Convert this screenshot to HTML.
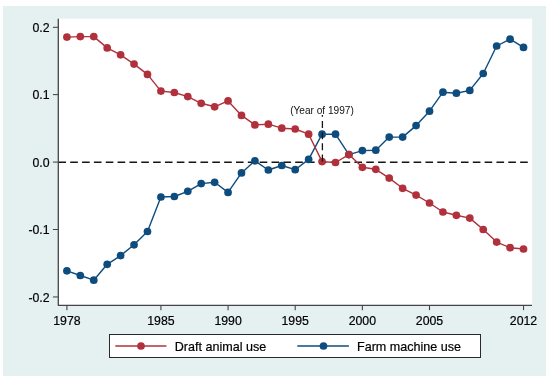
<!DOCTYPE html>
<html><head><meta charset="utf-8"><style>
html,body{margin:0;padding:0;background:#fff;width:550px;height:380px;overflow:hidden}
svg{display:block}
text{font-family:"Liberation Sans",Arial,sans-serif;fill:#000;stroke:#000;stroke-width:0.2px}
.t{font-size:12.3px}
.a{font-size:10.1px;stroke-width:0;fill:#111}
.l{font-size:12.55px}
</style></head><body>
<svg width="550" height="380" viewBox="0 0 550 380">
<rect x="0" y="0" width="550" height="380" fill="#fff"/>
<rect x="3" y="6" width="543" height="370" fill="#E5F0F1"/>
<rect x="58.5" y="18.7" width="473.7" height="286.3" fill="#fff"/>
<line x1="58.4" y1="162.2" x2="532" y2="162.2" stroke="#151515" stroke-width="1.4" stroke-dasharray="7.6 4.24"/>
<polyline points="66.90,270.80 80.33,275.50 93.76,280.20 107.19,264.30 120.62,255.60 134.05,244.80 147.48,231.50 160.91,197.00 174.34,196.50 187.77,191.30 201.20,183.60 214.63,182.30 228.06,192.40 241.49,172.90 254.92,160.80 268.35,170.00 281.78,165.50 295.21,169.70 308.64,159.40 322.07,134.20 335.50,134.20 348.93,154.60 362.36,150.60 375.79,150.20 389.22,137.10 402.65,137.10 416.08,125.60 429.51,111.20 442.94,92.20 456.37,93.20 469.80,90.40 483.23,73.50 496.66,46.00 510.09,39.20 523.52,47.40" fill="none" stroke="#0E4C7E" stroke-width="1.4" stroke-linejoin="round"/>
<g fill="#0E4C7E"><circle cx="66.90" cy="270.80" r="3.85"/><circle cx="80.33" cy="275.50" r="3.85"/><circle cx="93.76" cy="280.20" r="3.85"/><circle cx="107.19" cy="264.30" r="3.85"/><circle cx="120.62" cy="255.60" r="3.85"/><circle cx="134.05" cy="244.80" r="3.85"/><circle cx="147.48" cy="231.50" r="3.85"/><circle cx="160.91" cy="197.00" r="3.85"/><circle cx="174.34" cy="196.50" r="3.85"/><circle cx="187.77" cy="191.30" r="3.85"/><circle cx="201.20" cy="183.60" r="3.85"/><circle cx="214.63" cy="182.30" r="3.85"/><circle cx="228.06" cy="192.40" r="3.85"/><circle cx="241.49" cy="172.90" r="3.85"/><circle cx="254.92" cy="160.80" r="3.85"/><circle cx="268.35" cy="170.00" r="3.85"/><circle cx="281.78" cy="165.50" r="3.85"/><circle cx="295.21" cy="169.70" r="3.85"/><circle cx="308.64" cy="159.40" r="3.85"/><circle cx="322.07" cy="134.20" r="3.85"/><circle cx="335.50" cy="134.20" r="3.85"/><circle cx="348.93" cy="154.60" r="3.85"/><circle cx="362.36" cy="150.60" r="3.85"/><circle cx="375.79" cy="150.20" r="3.85"/><circle cx="389.22" cy="137.10" r="3.85"/><circle cx="402.65" cy="137.10" r="3.85"/><circle cx="416.08" cy="125.60" r="3.85"/><circle cx="429.51" cy="111.20" r="3.85"/><circle cx="442.94" cy="92.20" r="3.85"/><circle cx="456.37" cy="93.20" r="3.85"/><circle cx="469.80" cy="90.40" r="3.85"/><circle cx="483.23" cy="73.50" r="3.85"/><circle cx="496.66" cy="46.00" r="3.85"/><circle cx="510.09" cy="39.20" r="3.85"/><circle cx="523.52" cy="47.40" r="3.85"/></g>

<polyline points="66.90,37.10 80.33,36.60 93.76,36.60 107.19,47.90 120.62,54.80 134.05,64.10 147.48,74.40 160.91,91.10 174.34,92.50 187.77,96.60 201.20,103.30 214.63,106.80 228.06,100.90 241.49,115.40 254.92,124.90 268.35,124.20 281.78,128.20 295.21,129.00 308.64,134.20 322.07,161.60 335.50,162.50 348.93,154.60 362.36,167.30 375.79,169.30 389.22,178.10 402.65,188.30 416.08,195.10 429.51,203.00 442.94,212.00 456.37,215.30 469.80,218.10 483.23,229.50 496.66,242.10 510.09,247.70 523.52,249.00" fill="none" stroke="#B0303B" stroke-width="1.4" stroke-linejoin="round"/>
<g fill="#B0303B"><circle cx="66.90" cy="37.10" r="3.85"/><circle cx="80.33" cy="36.60" r="3.85"/><circle cx="93.76" cy="36.60" r="3.85"/><circle cx="107.19" cy="47.90" r="3.85"/><circle cx="120.62" cy="54.80" r="3.85"/><circle cx="134.05" cy="64.10" r="3.85"/><circle cx="147.48" cy="74.40" r="3.85"/><circle cx="160.91" cy="91.10" r="3.85"/><circle cx="174.34" cy="92.50" r="3.85"/><circle cx="187.77" cy="96.60" r="3.85"/><circle cx="201.20" cy="103.30" r="3.85"/><circle cx="214.63" cy="106.80" r="3.85"/><circle cx="228.06" cy="100.90" r="3.85"/><circle cx="241.49" cy="115.40" r="3.85"/><circle cx="254.92" cy="124.90" r="3.85"/><circle cx="268.35" cy="124.20" r="3.85"/><circle cx="281.78" cy="128.20" r="3.85"/><circle cx="295.21" cy="129.00" r="3.85"/><circle cx="308.64" cy="134.20" r="3.85"/><circle cx="322.07" cy="161.60" r="3.85"/><circle cx="335.50" cy="162.50" r="3.85"/><circle cx="348.93" cy="154.60" r="3.85"/><circle cx="362.36" cy="167.30" r="3.85"/><circle cx="375.79" cy="169.30" r="3.85"/><circle cx="389.22" cy="178.10" r="3.85"/><circle cx="402.65" cy="188.30" r="3.85"/><circle cx="416.08" cy="195.10" r="3.85"/><circle cx="429.51" cy="203.00" r="3.85"/><circle cx="442.94" cy="212.00" r="3.85"/><circle cx="456.37" cy="215.30" r="3.85"/><circle cx="469.80" cy="218.10" r="3.85"/><circle cx="483.23" cy="229.50" r="3.85"/><circle cx="496.66" cy="242.10" r="3.85"/><circle cx="510.09" cy="247.70" r="3.85"/><circle cx="523.52" cy="249.00" r="3.85"/></g>

<line x1="322.4" y1="115.1" x2="322.4" y2="161.5" stroke="#151515" stroke-width="1.3" stroke-dasharray="1.7 4.2 7.0 4.2 7.0 4.1 7.0 4.3 7.4 4"/>
<line x1="58.3" y1="18.8" x2="58.3" y2="305.6" stroke="#444" stroke-width="1.3"/>
<line x1="57.9" y1="305.3" x2="532" y2="305.3" stroke="#444" stroke-width="1.2"/>
<line x1="52.9" y1="27.3" x2="58" y2="27.3" stroke="#444" stroke-width="1.05"/>
<text x="49.6" y="31.95" text-anchor="end" class="t">0.2</text>
<line x1="52.9" y1="94.6" x2="58" y2="94.6" stroke="#444" stroke-width="1.05"/>
<text x="49.6" y="99.25" text-anchor="end" class="t">0.1</text>
<line x1="52.9" y1="162.1" x2="58" y2="162.1" stroke="#444" stroke-width="1.05"/>
<text x="49.6" y="166.75" text-anchor="end" class="t">0.0</text>
<line x1="52.9" y1="229.5" x2="58" y2="229.5" stroke="#444" stroke-width="1.05"/>
<text x="49.6" y="234.15" text-anchor="end" class="t">-0.1</text>
<line x1="52.9" y1="296.95" x2="58" y2="296.95" stroke="#444" stroke-width="1.05"/>
<text x="49.6" y="301.60" text-anchor="end" class="t">-0.2</text>
<line x1="66.90" y1="305.6" x2="66.90" y2="310.2" stroke="#444" stroke-width="1.1"/>
<text x="66.90" y="324.8" text-anchor="middle" class="t">1978</text>
<line x1="160.91" y1="305.6" x2="160.91" y2="310.2" stroke="#444" stroke-width="1.1"/>
<text x="160.91" y="324.8" text-anchor="middle" class="t">1985</text>
<line x1="228.06" y1="305.6" x2="228.06" y2="310.2" stroke="#444" stroke-width="1.1"/>
<text x="228.06" y="324.8" text-anchor="middle" class="t">1990</text>
<line x1="295.21" y1="305.6" x2="295.21" y2="310.2" stroke="#444" stroke-width="1.1"/>
<text x="295.21" y="324.8" text-anchor="middle" class="t">1995</text>
<line x1="362.36" y1="305.6" x2="362.36" y2="310.2" stroke="#444" stroke-width="1.1"/>
<text x="362.36" y="324.8" text-anchor="middle" class="t">2000</text>
<line x1="429.51" y1="305.6" x2="429.51" y2="310.2" stroke="#444" stroke-width="1.1"/>
<text x="429.51" y="324.8" text-anchor="middle" class="t">2005</text>
<line x1="523.52" y1="305.6" x2="523.52" y2="310.2" stroke="#444" stroke-width="1.1"/>
<text x="523.52" y="324.8" text-anchor="middle" class="t">2012</text>
<text x="322" y="113.5" text-anchor="middle" class="a">(Year of 1997)</text>
<rect x="109.5" y="334.5" width="371" height="23" fill="#fff" stroke="#2a2a2a" stroke-width="1"/>
<line x1="115.3" y1="346" x2="166.4" y2="346" stroke="#B0303B" stroke-width="1.4"/>
<circle cx="141" cy="346" r="3.85" fill="#B0303B"/>
<text x="174.8" y="350.5" class="l">Draft animal use</text>
<line x1="297.3" y1="346" x2="348.9" y2="346" stroke="#0E4C7E" stroke-width="1.4"/>
<circle cx="323.5" cy="346" r="3.85" fill="#0E4C7E"/>
<text x="357.0" y="350.5" class="l">Farm machine use</text>
</svg>
</body></html>
